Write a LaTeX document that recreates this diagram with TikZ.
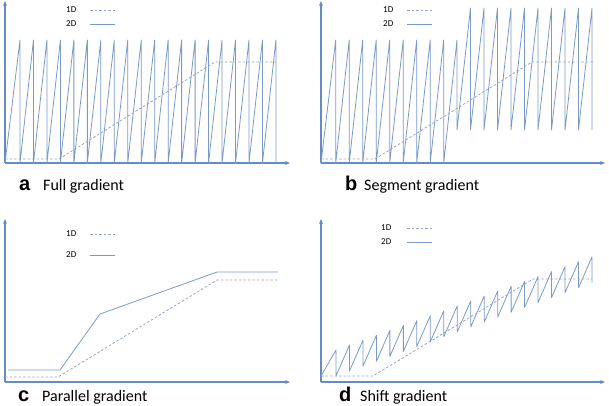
\documentclass[tikz,border=0pt]{standalone}
\usepackage{fontspec}
\setmainfont{Carlito}
\newfontfamily\letfont{Liberation Sans}
\usetikzlibrary{arrows.meta}
\definecolor{ln}{RGB}{122,154,200}
\definecolor{ax}{RGB}{100,140,200}
\definecolor{ds}{RGB}{150,165,190}
\tikzset{
  axis/.style={draw=ax,line width=1.1pt,-{Stealth[length=5pt,width=4pt]}},
  sol/.style={draw=ln,line width=0.8pt,line join=round},
  dsh/.style={draw=ds,line width=0.8pt,dash pattern=on 2.5pt off 2pt},
  leg/.style={font=\fontsize{9}{10}\selectfont,anchor=west,inner sep=0pt},
  lett/.style={font=\letfont\bfseries\fontsize{20}{22}\selectfont,anchor=base west,inner sep=0pt},
  ttl/.style={font=\fontsize{16}{18}\selectfont,anchor=base west,inner sep=0pt}
}
\begin{document}
\begin{tikzpicture}[x=1pt,y=-1pt]
\useasboundingbox (0,0) rectangle (609,405);
% ---- a
\draw[axis] (5,163) -- (5,1);
\draw[axis] (5,163) -- (290,163);
\draw[sol] (5,163) foreach \i in {0,...,19}{ -- ({20+13.47*\i},40) -- ({20+13.47*\i},163)};
\draw[dsh] (5,159) -- (59,159) -- (215,62) -- (276,62);
\node[leg] (a1) at (66,10) {1D}; \draw[dsh] (90,10) -- (115,10);
\node[leg] (a2) at (66,24) {2D}; \draw[sol] (90,24) -- (115,24);
\node[lett] (la) at (19,190) {a}; \node[ttl] (ta) at (43,190) {Full gradient};
% ---- b
\draw[axis] (321,163) -- (321,1);
\draw[axis] (321,163) -- (605,163);
\draw[sol] (321,163) foreach \i in {0,...,8}{ -- ({335.7+13.5*\i},40) -- ({335.7+13.5*\i},163)}
  -- (457,40) -- (457,130)
  foreach \i in {1,...,10}{ -- ({457+13.5*\i},8) -- ({457+13.5*\i},130)};
\draw[dsh] (321,159) -- (375,159) -- (532,62) -- (593,62);
\node[leg] (b1) at (383,10) {1D}; \draw[dsh] (407,10) -- (432,10);
\node[leg] (b2) at (383,24) {2D}; \draw[sol] (407,24) -- (432,24);
\node[lett] (lb) at (345,190) {b}; \node[ttl] (tb) at (364,190) {Segment gradient};
% ---- c
\draw[axis] (5,382) -- (5,219);
\draw[axis] (5,382) -- (290,382);
\draw[sol] (8,370) -- (60,370) -- (100,314) -- (217,272) -- (278,272);
\draw[dsh] (5,377) -- (58,377) -- (217,280) -- (278,280);
\node[leg] (c1) at (66,234) {1D}; \draw[dsh] (90,234) -- (115,234);
\node[leg] (c2) at (66,255) {2D}; \draw[sol] (90,255) -- (115,255);
\node[lett] (lc) at (18,401) {c}; \node[ttl] (tc) at (42,401) {Parallel gradient};
% ---- d
\draw[axis] (321,382) -- (321,219);
\draw[axis] (321,382) -- (605,382);
\draw[sol] (321,376) foreach \i in {0,...,19}{ -- ({336+13.47*\i},{350-4.9*\i}) -- ({336+13.47*\i},{376-4.9*\i})};
\draw[dsh] (321,376) -- (373,376) -- (533,279) -- (592,279);
\node[leg] (d1) at (381,228) {1D}; \draw[dsh] (407,228) -- (432,228);
\node[leg] (d2) at (381,242) {2D}; \draw[sol] (407,242) -- (432,242);
\node[lett] (ld) at (339,401) {d}; \node[ttl] (td) at (360,401) {Shift gradient};
\end{tikzpicture}
\end{document}
